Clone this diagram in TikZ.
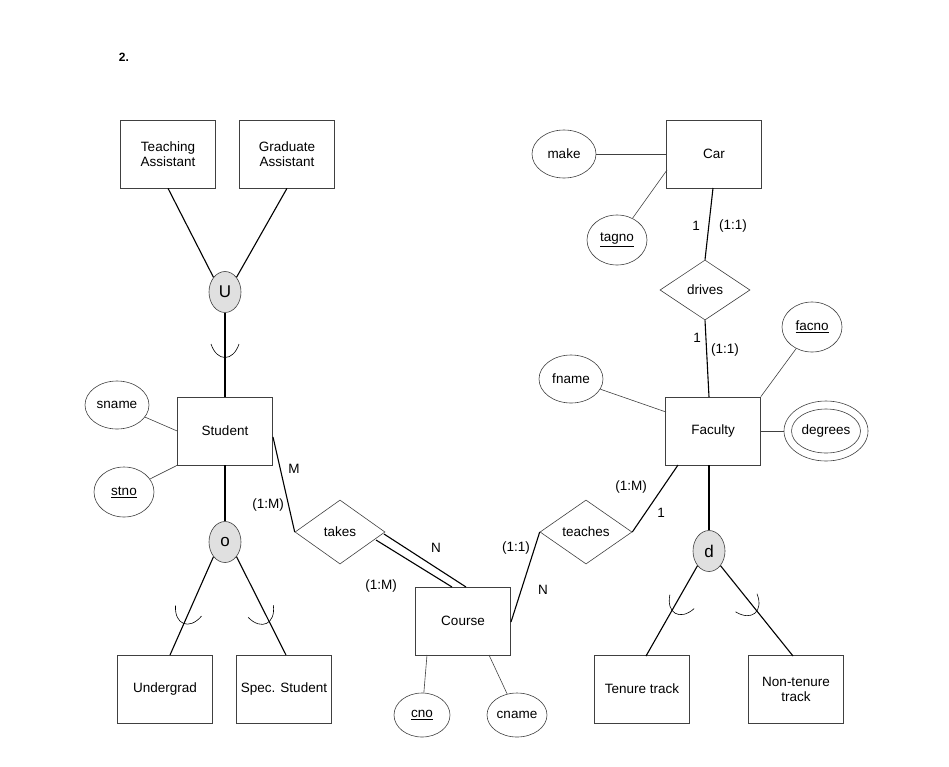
\documentclass[tikz,border=0pt]{standalone}
\usepackage{fontspec}
\setmainfont{Liberation Sans}
\usetikzlibrary{shapes.geometric}
\begin{document}
\begin{tikzpicture}[x=1pt,y=-1pt,
  font=\fontsize{13.5}{15}\selectfont,
  ent/.style={draw=black!75,line width=0.6pt,minimum width=95pt,minimum height=68pt,align=center,inner sep=2pt},
  att/.style={draw=black!75,ellipse,line width=0.6pt,inner sep=0pt},
  rel/.style={draw=black!75,diamond,line width=0.6pt,inner sep=0pt,aspect=1.45},
  circ/.style={draw=black!75,ellipse,fill=black!12,line width=0.6pt,minimum width=32pt,minimum height=41pt,inner sep=0pt,font=\fontsize{17}{19}\selectfont},
  ln/.style={line width=1.1pt},
  tl/.style={line width=0.6pt,draw=black!75},
  lab/.style={inner sep=1pt},
  cup/.pic={\draw[line width=0.6pt] (-14,-12) .. controls (-8,6) and (8,6) .. (14,-12);}]
\useasboundingbox (0,0) rectangle (949,766);
\node[font=\bfseries\fontsize{12}{14}\selectfont] (two) at (124,57) {2.};
% entities
\node[ent] (ta) at (168,154) {Teaching\\Assistant};
\node[ent] (ga) at (287,154) {Graduate\\Assistant};
\node[ent] (st) at (225,431) {Student};
\node[ent] (ug) at (165,689) {Undergrad};
\node[ent] (ss) at (284,689) {Spec. Student};
\node[ent] (co) at (463,621) {Course};
\node[ent] (car) at (714,154) {Car};
\node[ent] (fa) at (713,431) {Faculty};
\node[ent] (tt) at (642,689) {Tenure track};
\node[ent] (nt) at (796,689) {Non-tenure\\track};
% circles
\node[circ] (u) at (225,292) {U};
\node[circ] (o) at (225,542) {o};
\node[circ] (d) at (709,551) {d};
% attributes
\node[att,minimum width=64pt,minimum height=48pt] (sname) at (117,405) {sname};
\node[att,minimum width=60pt,minimum height=50pt] (stno) at (124,492) {\underline{stno}};
\node[att,minimum width=56pt,minimum height=44pt] (cno) at (422,715) {\underline{cno}};
\node[att,minimum width=60pt,minimum height=44pt] (cname) at (517,715) {cname};
\node[att,minimum width=64pt,minimum height=48pt] (make) at (564,154) {make};
\node[att,minimum width=60pt,minimum height=50pt] (tagno) at (617,240) {\underline{tagno}};
\node[att,minimum width=64pt,minimum height=48pt] (fname) at (571,379) {fname};
\node[att,minimum width=60pt,minimum height=50pt] (facno) at (812,327) {\underline{facno}};
\node[att,minimum width=84pt,minimum height=60pt] (degO) at (826,431) {};
\node[att,minimum width=68pt,minimum height=44pt] (deg) at (826,431) {degrees};
% relationships
\node[rel,minimum width=90pt,minimum height=64pt] (takes) at (340,532) {takes};
\node[rel,minimum width=92pt,minimum height=64pt] (teaches) at (586,532) {teaches};
\node[rel,minimum width=90pt,minimum height=60pt] (drives) at (705,290) {drives};
% connectors
\draw[ln] (ta.south) -- (u.north west);
\draw[ln] (ga.south) -- (u.north east);
\draw[ln] (u.south) -- (st.north);
\pic at (225,356) {cup};
\draw[ln] (st.south) -- (o.north);
\coordinate (ugt) at (170,655);
\coordinate (sst) at (286,655);
\draw[ln] (o.south west) -- (ugt);
\draw[ln] (o.south east) -- (sst);
\pic[rotate=-22] at (184,622) {cup};
\pic[rotate=26] at (266,622) {cup};
\draw[tl] (sname) -- (st.west);
\draw[tl] (stno) -- (st.south west);
\coordinate (stm) at (273,437);
\draw[ln] (stm) -- (takes.west);
\node[lab] (lM) at (294,469) {M};
\node[lab] (l1M) at (268,505) {(1:M)};
\coordinate (tk1) at (376,540);
\coordinate (tk2) at (384,534);
\coordinate (c1) at (452,587);
\coordinate (c2) at (466,587);
\draw[ln] (tk1) -- (c1);
\draw[ln] (tk2) -- (c2);
\node[lab] (lN) at (436,548) {N};
\node[lab] (l1M2) at (381,586) {(1:M)};
\coordinate (cor) at (511,622);
\draw[ln] (cor) -- (teaches.west);
\node[lab] (l11) at (516,548) {(1:1)};
\node[lab] (lN2) at (543,590) {N};
\coordinate (fbl) at (678,465);
\draw[ln] (teaches.east) -- (fbl);
\node[lab] (l1M3) at (631,487) {(1:M)};
\node[lab] (l1) at (661,513) {1};
\coordinate (cob1) at (427,655);
\coordinate (cob2) at (489,655);
\draw[tl] (cno) -- (cob1);
\draw[tl] (cname) -- (cob2);
% car
\draw[tl] (make) -- (car.west);
\coordinate (carl) at (667,170);
\draw[tl] (tagno) -- (carl);
\coordinate (carb) at (713,188);
\draw[ln] (carb) -- (drives.north);
\node[lab] (d1) at (696,226) {1};
\node[lab] (d11) at (733,226) {(1:1)};
\coordinate (fat) at (709,397);
\draw[ln] (drives.south) -- (fat);
\node[lab] (d2) at (697,338) {1};
\node[lab] (d12) at (725,350) {(1:1)};
\coordinate (fal) at (666,412);
\draw[tl] (fname) -- (fal);
\draw[tl] (facno) -- (fa.north east);
\draw[tl] (fa.east) -- (degO);
\coordinate (fab) at (709,465);
\draw[ln] (fab) -- (d.north);
\coordinate (ttt) at (646,656);
\coordinate (ntt) at (793,656);
\draw[ln] (d.south west) -- (ttt);
\draw[ln] (d.south east) -- (ntt);
\pic[rotate=-30] at (676,612) {cup};
\pic[rotate=40] at (754,612) {cup};
\end{tikzpicture}
\end{document}
